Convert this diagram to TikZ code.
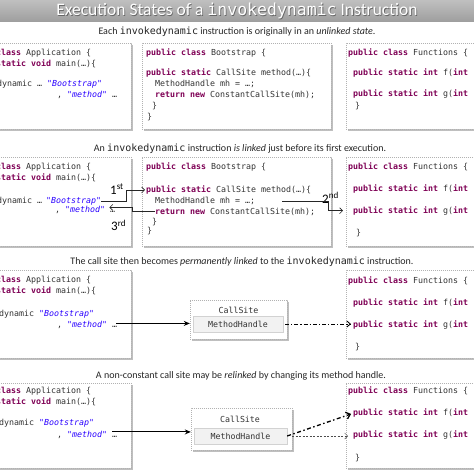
\documentclass[tikz,border=0pt]{standalone}
\usepackage{fontspec}
\setmainfont{Carlito}
\newfontfamily\codefont{DejaVu Sans Mono}
\usetikzlibrary{arrows.meta,calc}
\definecolor{kwc}{HTML}{7F0055}
\definecolor{strc}{HTML}{2A00FF}
\definecolor{codec}{HTML}{333333}
\newcommand{\kwd}[1]{\textcolor{kwc}{\bfseries #1}}
\newcommand{\strg}[1]{\textcolor{strc}{\itshape #1}}
\newcommand{\capcode}[1]{{\codefont\fontsize{10}{12}\selectfont #1}}
\newcommand{\titletext}{Execution States of a {\codefont\fontsize{16.5}{19}\selectfont invokedynamic} Instruction}
\tikzset{
  codeline/.style={anchor=base west, inner sep=0pt, text=codec, font=\codefont\fontsize{8.3}{10}\selectfont},
  captext/.style={anchor=base, inner sep=0pt, text=black!85, font=\fontsize{10}{12}\selectfont},
  panel/.style={fill=white, draw=gray!60, line width=0.4pt, dash pattern=on 1.2pt off 0.8pt, inner sep=0pt,
    preaction={draw=none, fill=gray!50, transform canvas={shift={(2pt,-2pt)}}}},
  mhbox/.style={fill=gray!10, draw=gray!35, line width=0.4pt, inner sep=0pt, minimum width=90pt, minimum height=16pt,
    text=codec, font=\codefont\fontsize{8.3}{10}\selectfont},
  ordlabel/.style={anchor=base west, inner sep=0pt, font=\fontsize{13}{14}\selectfont},
  linkarrow/.style={draw=black!85, line width=0.6pt, -{Straight Barb[length=3pt,width=6pt]}},
  solidarrow/.style={draw=black, line width=1.1pt, -{Stealth[length=6pt,width=5pt]}},
  ddarrow/.style={draw=black, line width=0.9pt, dash pattern=on 4pt off 2pt on 1.2pt off 2pt, -{Straight Barb[length=3.5pt,width=6pt]}},
  thickdd/.style={draw=black, line width=1.3pt, dash pattern=on 4pt off 2.5pt on 1.5pt off 2.5pt, -{Straight Barb[length=4pt,width=7pt]}},
  thindash/.style={draw=black!70, line width=0.5pt, dash pattern=on 2pt off 1.5pt, -{Straight Barb[length=3pt,width=6pt]}},
}
\begin{document}
\begin{tikzpicture}[x=1pt,y=-1pt]
\useasboundingbox (0,0) rectangle (474,474);
\fill[white] (0,0) rectangle (474,474);
% title bar
\shade[top color=gray!50, bottom color=gray!75] (0,0) rectangle (474,21);
\node (titleshadow) [text=black!60, inner sep=0pt, font=\fontsize{17.5}{19}\selectfont] at (237.8,11.6) {\titletext};
\node (title) [text=white, inner sep=0pt, font=\fontsize{17.5}{19}\selectfont] at (237,10.8) {\titletext};

% ---------------- panel 1
\node (cap1) [captext] at (237,34.5) {Each \capcode{invokedynamic} instruction is originally in an \textit{unlinked state}.};
\node (b1l) [panel, minimum width=136pt, minimum height=86pt] at (63,86) {};
\node (b1m) [panel, minimum width=189pt, minimum height=86pt] at (236.5,86) {};
\node (b1r) [panel, minimum width=134pt, minimum height=86pt] at (413,86) {};
\node (p1a) [codeline] at (-4,55.5) {\kwd{class} Application \{};
\node (p1b) [codeline] at (-4,66.5) {\kwd{static} \kwd{void} main(…)\{};
\node (p1c) [codeline] at (-33,86.5) {invokedynamic … \strg{"Bootstrap"}};
\node (p1d) [codeline] at (57,97.5) {, \strg{"method"} …};
\node (p1e) [codeline] at (146,55.5) {\kwd{public} \kwd{class} Bootstrap \{};
\node (p1f) [codeline] at (146,75.5) {\kwd{public} \kwd{static} CallSite method(…)\{};
\node (p1g) [codeline] at (155,86.5) {MethodHandle mh = …;};
\node (p1h) [codeline] at (155,97) {\kwd{return} \kwd{new} ConstantCallSite(mh);};
\node (p1i) [codeline] at (152,108) {\}};
\node (p1j) [codeline] at (147,119) {\}};
\node (p1k) [codeline] at (348,55.5) {\kwd{public} \kwd{class} Functions \{};
\node (p1l) [codeline] at (353,75.5) {\kwd{public} \kwd{static} \kwd{int} f(\kwd{int}};
\node (p1m) [codeline] at (353,96.5) {\kwd{public} \kwd{static} \kwd{int} g(\kwd{int}};
\node (p1n) [codeline] at (355,108.5) {\}};

% ---------------- panel 2
\node (cap2) [captext] at (240,151.5) {An \capcode{invokedynamic} instruction \textit{is linked} just before its first execution.};
\node (b2l) [panel, minimum width=136pt, minimum height=89pt] at (63,201.5) {};
\node (b2m) [panel, minimum width=189pt, minimum height=89pt] at (236.5,201.5) {};
\node (b2r) [panel, minimum width=134pt, minimum height=89pt] at (413,201.5) {};
\node (p2a) [codeline] at (-4,169.2) {\kwd{class} Application \{};
\node (p2b) [codeline] at (-4,180.5) {\kwd{static} \kwd{void} main(…)\{};
\node (p2c) [codeline] at (-33,203.2) {invokedynamic …};
\node (p2boot) [codeline] at (46,203.2) {\strg{"Bootstrap"}};
\node (p2meth) [codeline] at (55,212.5) {, \strg{"method"} …};
\node (p2e) [codeline] at (146,169.2) {\kwd{public} \kwd{class} Bootstrap \{};
\node (p2cs) [codeline] at (146,192.5) {\kwd{public} \kwd{static} CallSite method(…)\{};
\node (p2mh) [codeline] at (155,203.5) {MethodHandle mh = …;};
\node (p2ret) [codeline] at (155,214.2) {\kwd{return} \kwd{new} ConstantCallSite(mh);};
\node (p2i) [codeline] at (152,224.2) {\}};
\node (p2j) [codeline] at (147,233.5) {\}};
\node (p2k) [codeline] at (348,169.2) {\kwd{public} \kwd{class} Functions \{};
\node (p2f) [codeline] at (353,191.5) {\kwd{public} \kwd{static} \kwd{int} f(\kwd{int}};
\node (p2g) [codeline] at (353,213.2) {\kwd{public} \kwd{static} \kwd{int} g(\kwd{int}};
\node (p2n) [codeline] at (356,235.5) {\}};
\node (o1) [ordlabel] at (110,194) {1\textsuperscript{st}};
\node (o3) [ordlabel] at (111,230.5) {3\textsuperscript{rd}};
\node (o2) [ordlabel] at (322,203) {2\textsuperscript{nd}};
\draw[linkarrow, shorten >=1pt] (p2boot.east) -- ++(25,0) |- (p2cs.west);
\coordinate (p2back) at ($(p2meth.east)+(-6,-2.5)$);
\draw[linkarrow] (p2ret.west) -- ++(-23,0) |- (p2back);
\coordinate (p2start) at ($(p2mh.east)+(27,0)$);
\draw[linkarrow, shorten >=10pt] (p2start) -| ($(p2g.west)+(-25,0)$) -- (p2g.west);

% ---------------- panel 3
\node (cap3) [captext] at (242,264.5) {The call site then becomes \textit{permanently linked} to the \capcode{invokedynamic} instruction.};
\node (b3l) [panel, minimum width=136pt, minimum height=88pt] at (63,314) {};
\node (b3r) [panel, minimum width=134pt, minimum height=88pt] at (413,314) {};
\node (p3a) [codeline] at (-4,282.5) {\kwd{class} Application \{};
\node (p3b) [codeline] at (-4,293.2) {\kwd{static} \kwd{void} main(…)\{};
\node (p3c) [codeline] at (-31,316.5) {invokedynamic \strg{"Bootstrap"}};
\node (p3meth) [codeline] at (57,327.5) {, \strg{"method"} …};
\node (p3cs) [panel, minimum width=97pt, minimum height=39pt] at (238.5,319.5) {};
\node (p3cst) [codeline, anchor=base] at (238.5,313) {CallSite};
\node (p3mh) [mhbox] at (238,324) {MethodHandle};
\node (p3k) [codeline] at (348,283.5) {\kwd{public} \kwd{class} Functions \{};
\node (p3f) [codeline] at (353,305.2) {\kwd{public} \kwd{static} \kwd{int} f(\kwd{int}};
\node (p3g) [codeline] at (353,327.5) {\kwd{public} \kwd{static} \kwd{int} g(\kwd{int}};
\node (p3n) [codeline] at (355,349.2) {\}};
\coordinate (p3start) at ($(p3meth.east)+(-1,-1.5)$);
\draw[solidarrow] (p3start) -- (p3start -| p3cs.west);
\draw[ddarrow, shorten <=2pt, shorten >=2pt] (p3mh.east) -- (p3mh.east -| p3g.west);

% ---------------- panel 4
\node (cap4) [captext] at (241,378.5) {A non-constant call site may be \textit{relinked} by changing its method handle.};
\node (b4l) [panel, minimum width=136pt, minimum height=85pt] at (63,425.5) {};
\node (b4r) [panel, minimum width=134pt, minimum height=85pt] at (413,425.5) {};
\node (p4a) [codeline] at (-4,393.2) {\kwd{class} Application \{};
\node (p4b) [codeline] at (-4,404.5) {\kwd{static} \kwd{void} main(…)\{};
\node (p4c) [codeline] at (-31,425.5) {invokedynamic \strg{"Bootstrap"}};
\node (p4meth) [codeline] at (57,437.5) {, \strg{"method"} …};
\node (p4cs) [panel, minimum width=101pt, minimum height=42pt] at (241.5,429) {};
\node (p4cst) [codeline, anchor=base] at (240,422.5) {CallSite};
\node (p4mh) [mhbox, minimum width=93pt] at (240.5,436) {MethodHandle};
\node (p4k) [codeline] at (348,393.2) {\kwd{public} \kwd{class} Functions \{};
\node (p4f) [codeline] at (353,415.8) {\kwd{public} \kwd{static} \kwd{int} f(\kwd{int}};
\node (p4g) [codeline] at (353,437.5) {\kwd{public} \kwd{static} \kwd{int} g(\kwd{int}};
\node (p4n) [codeline] at (355,460.5) {\}};
\coordinate (p4start) at ($(p4meth.east)+(-5,-3)$);
\draw[solidarrow] (p4start) -- (p4start -| p4cs.west);
\draw[thickdd, shorten >=2pt] (p4mh.east) -- (p4f.west);
\draw[thindash, shorten <=5pt, shorten >=5pt] (p4mh.east) -- (p4mh.east -| p4g.west);
\end{tikzpicture}
\end{document}
